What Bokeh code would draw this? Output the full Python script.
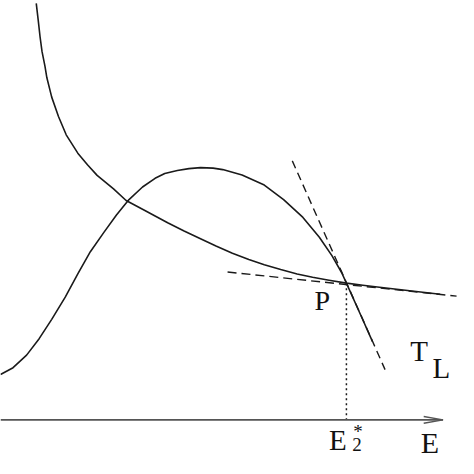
from bokeh.plotting import figure
from bokeh.models import Range1d
from bokeh.embed import file_html
from bokeh.resources import INLINE
from bokeh.core.properties import value

# Decreasing curve (coordinates in reference-pixel units, y downward)
hyp_x = [37, 39, 41, 43, 46, 48, 53, 60, 68, 80, 90, 100, 117, 130, 147, 160, 173, 190, 207,
         223, 240, 257, 273, 290, 307, 323, 340, 358, 375, 390, 410, 437, 455]
hyp_y = [3, 20, 38, 53, 68, 80, 100, 120, 139, 158, 170, 181, 195, 207, 216, 223, 230, 238.5, 246.5,
         254, 261.5, 268, 273.5, 278.5, 283, 286.5, 289.5, 292.5, 294.7, 296.5, 298.8, 302, 304]

# Bell-shaped curve
bell_x = [0, 13, 27, 40, 53, 67, 80, 93, 107, 120, 133, 147, 160, 170, 183, 195, 207, 220, 230,
          250, 273, 293, 313, 330, 343, 353, 358, 373, 385]
bell_y = [387, 380, 367, 350, 330, 307, 283, 260, 240, 222, 206, 193, 184, 179, 176, 174, 173, 173.5, 175,
          180.5, 191, 206, 224.5, 245, 264, 281.5, 292.5, 326, 353]

# Tangent lines at P
tan1_x = [235, 472]
tan1_y = [281, 306]
tan2_x = [302, 398]
tan2_y = [166, 382]

# Point P and the E axis
p_x = 358
p_y = 292.5
axis_y = 434
axis_x = [0, 458]
head_x = [438, 458, 438]
head_y = [430.5, 434, 437.5]

# Labels
labels = ["P", "T", "L", "E", "2", "*", "E"]
lab_x = [325, 424, 447, 340, 364, 365, 435]
lab_y = [310, 363, 380, 455, 459, 446, 457]
lab_size = ["28px", "29px", "29px", "29px", "19px", "19px", "30px"]

W = 458
p = figure(width=W, height=W, output_backend="svg", toolbar_location=None,
           x_range=Range1d(0, 474), y_range=Range1d(474, 0),
           min_border=0, outline_line_color=None)
p.axis.visible = False
p.grid.visible = False

col = "#1a1a1a"
p.line(hyp_x, hyp_y, line_color=col, line_width=1.6, line_join="round")
p.line(bell_x, bell_y, line_color=col, line_width=1.6, line_join="round")
p.line(tan1_x, tan1_y, line_color=col, line_width=1.4, line_dash="9 5")
p.line(tan2_x, tan2_y, line_color=col, line_width=1.4, line_dash="8 5")
p.line([p_x, p_x], [p_y, axis_y], line_color=col, line_width=1.5, line_dash="2 3")
p.line(axis_x, [axis_y, axis_y], line_color="#555555", line_width=1.6)
p.line(head_x, head_y, line_color="#555555", line_width=1.4)

for t, x, y, s in zip(labels, lab_x, lab_y, lab_size):
    p.text(x=[x], y=[y], text=[t], text_font=value("Liberation Serif"),
           text_font_size=s, text_baseline="alphabetic", text_align="left",
           text_color="#111111")

open("out.html", "w").write(file_html(p, INLINE))
